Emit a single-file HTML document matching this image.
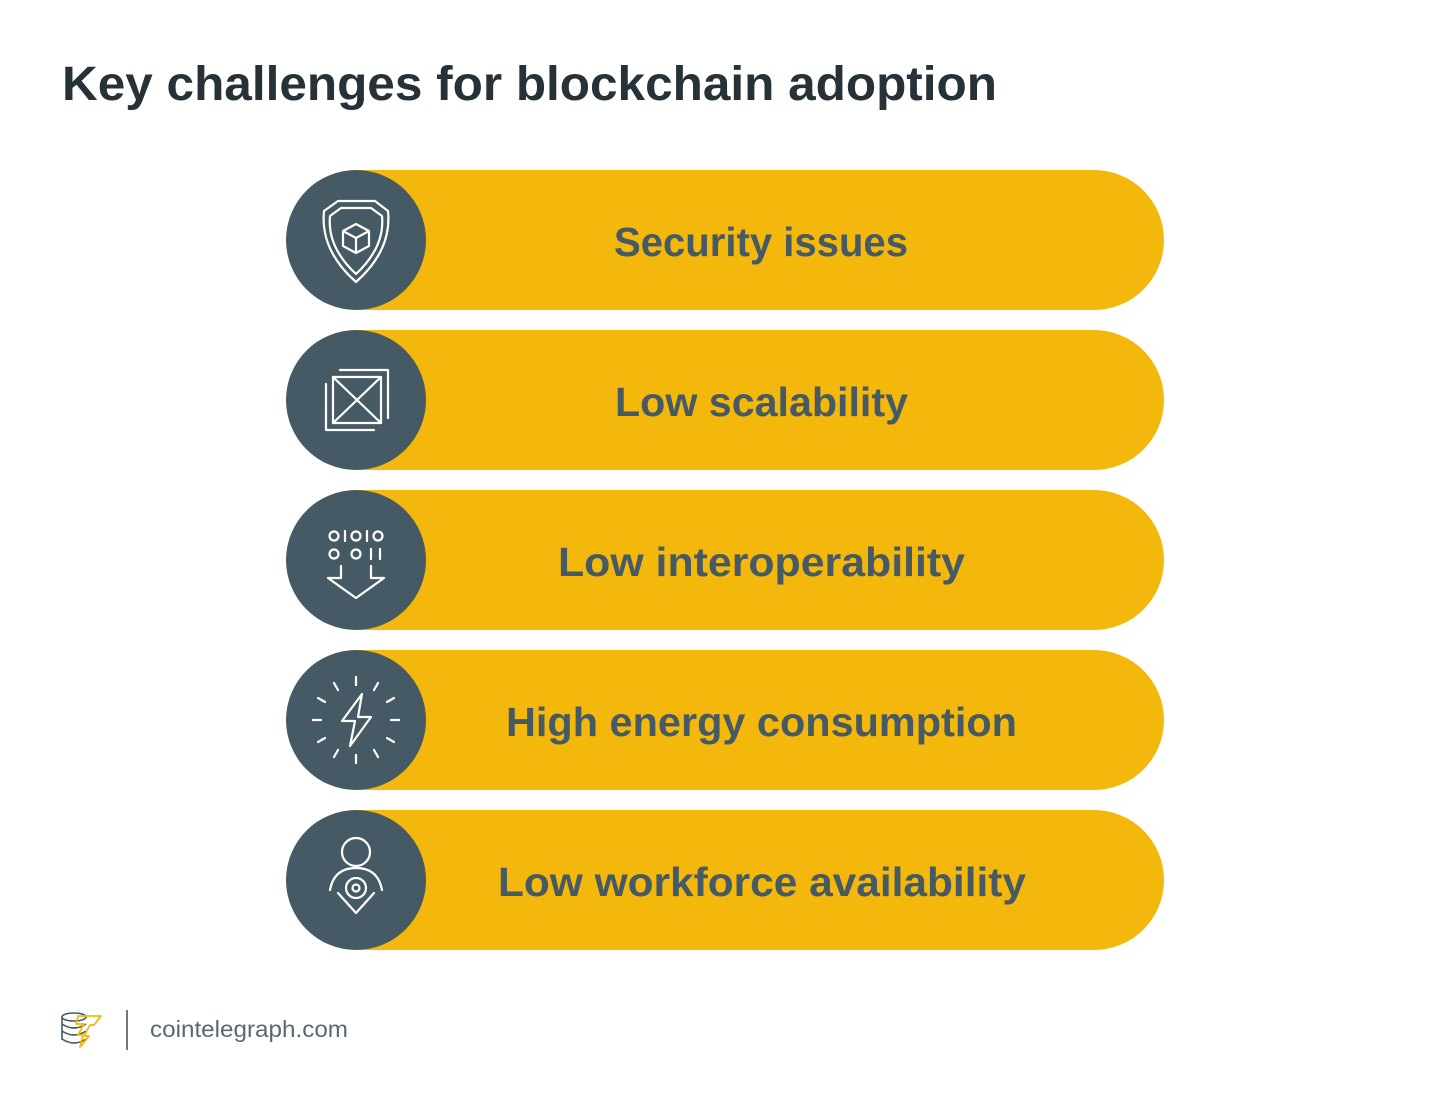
<!DOCTYPE html>
<html><head><meta charset="utf-8"><style>
body{margin:0;width:1450px;height:1110px;background:#fff;overflow:hidden;font-family:"Liberation Sans",sans-serif}
</style></head><body>
<svg width="1450" height="1110" viewBox="0 0 1450 1110" xmlns="http://www.w3.org/2000/svg">
<text x="62" y="100" font-family="Liberation Sans, sans-serif" font-weight="bold" font-size="48" fill="#263238" textLength="935" lengthAdjust="spacingAndGlyphs">Key challenges for blockchain adoption</text>
<g font-family="Liberation Sans, sans-serif" font-weight="bold" font-size="41" fill="#455A64">
<path d="M356 170H1094a70 70 0 0 1 0 140H356z" fill="#F4B70C"/><circle cx="356" cy="240" r="70" fill="#455A64"/>
<text x="614" y="256" textLength="294" lengthAdjust="spacingAndGlyphs">Security issues</text>
<path d="M356 330H1094a70 70 0 0 1 0 140H356z" fill="#F4B70C"/><circle cx="356" cy="400" r="70" fill="#455A64"/>
<text x="615" y="416" textLength="293" lengthAdjust="spacingAndGlyphs">Low scalability</text>
<path d="M356 490H1094a70 70 0 0 1 0 140H356z" fill="#F4B70C"/><circle cx="356" cy="560" r="70" fill="#455A64"/>
<text x="558" y="576" textLength="407" lengthAdjust="spacingAndGlyphs">Low interoperability</text>
<path d="M356 650H1094a70 70 0 0 1 0 140H356z" fill="#F4B70C"/><circle cx="356" cy="720" r="70" fill="#455A64"/>
<text x="506" y="736" textLength="511" lengthAdjust="spacingAndGlyphs">High energy consumption</text>
<path d="M356 810H1094a70 70 0 0 1 0 140H356z" fill="#F4B70C"/><circle cx="356" cy="880" r="70" fill="#455A64"/>
<text x="498" y="896" textLength="528" lengthAdjust="spacingAndGlyphs">Low workforce availability</text>
</g>
<g fill="none" stroke="#fff" stroke-width="2.2" stroke-linejoin="round" stroke-linecap="round">
<path d="M338 201H375L388 211Q392 250 356 282Q320 250 324 211Z"/>
<path d="M341 208H371L382 216Q385 247 356 274Q327 247 330 216Z"/>
<path d="M356 224L369 231V246L356 253L343 246V231ZM343 231L356 238L369 231M356 238V253"/>
<rect x="333" y="377" width="48" height="46"/><path d="M333 377L381 423M381 377L333 423M340 370H388V418M326 384V430H374"/>
<circle cx="334" cy="536" r="4.5"/><path d="M345 531V541"/><circle cx="356" cy="536" r="4.5"/><path d="M367 531V541"/><circle cx="378" cy="536" r="4.5"/>
<circle cx="334" cy="554" r="4.5"/><circle cx="356" cy="554" r="4.5"/><path d="M371 549V559M380 549V559"/>
<path d="M341 566V578H328L356 598L384 578H371V566"/>
<path d="M362 694L342 721H355L350 746L371 717H358Z"/>
<path d="M356 677V685M356 755V763M313 720H321M391 720H399M334 683L338 690M378 683L374 690M334 757L338 750M378 757L374 750M318 698L325 702M394 698L387 702M318 742L325 738M394 742L387 738"/>
<circle cx="356" cy="852" r="14"/><path d="M330 890Q334 868 356 868Q378 868 382 890M338 893L356 913L374 893"/>
<circle cx="356" cy="888" r="10"/><circle cx="356" cy="888" r="3.5"/>
</g>
<g fill="none" stroke="#455A64" stroke-width="1.6">
<ellipse cx="74" cy="1017" rx="12" ry="4"/><path d="M62 1017V1039Q74 1047 86 1039M62 1024Q74 1032 86 1024M62 1031Q74 1039 86 1031"/>
</g>
<path d="M78 1016H101L94 1025H90L84 1036H89L80 1047L83 1035H78L84 1024H76Z" fill="none" stroke="#F4B70C" stroke-width="1.8" stroke-linejoin="round"/>
<line x1="127" y1="1010" x2="127" y2="1050" stroke="#777" stroke-width="2"/>
<text x="150" y="1037" font-family="Liberation Sans, sans-serif" font-size="23" fill="#5B6770" textLength="198" lengthAdjust="spacingAndGlyphs">cointelegraph.com</text>
</svg>
</body></html>
